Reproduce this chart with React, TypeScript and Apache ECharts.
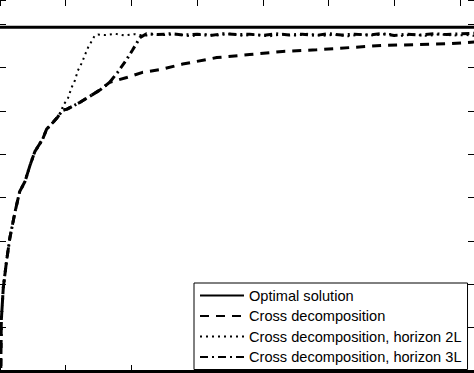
import React, { useEffect, useRef } from "react";
import * as echarts from "echarts";

const legendNames = [
  "Optimal solution",
  "Cross decomposition",
  "Cross decomposition, horizon 2L",
  "Cross decomposition, horizon 3L",
];

const optimalValue = 7.93;
const optimalX = [0, 72.2];

// shared early part of the three decomposition curves
const commonStart: [number, number][] = [
  [0.1, -0.3], [0.2, 1.17], [0.5, 1.92], [1.0, 2.54], [1.5, 3.07], [2.3, 3.68],
  [3.0, 4.14], [3.8, 4.37], [4.6, 4.76], [5.3, 5.06], [6.5, 5.35], [7.1, 5.58],
  [8.1, 5.74], [8.8, 5.86], [9.3, 5.97],
];
const commonMid: [number, number][] = [
  [9.6, 6.02], [10.2, 6.04], [12.2, 6.2], [15.2, 6.48],
];

const crossTail: [number, number][] = [
  [16.7, 6.66], [19.3, 6.77], [21.7, 6.89], [24.3, 6.95], [27.8, 7.08], [33.0, 7.23],
  [38.0, 7.3], [43.0, 7.37], [48.2, 7.41], [53.2, 7.46], [58.2, 7.51], [63.4, 7.53],
  [68.4, 7.55], [72.2, 7.59],
];

const horizon2Tail: [number, number][] = [
  [9.6, 6.13], [10.3, 6.27], [10.9, 6.54], [11.4, 6.7], [11.85, 6.93], [12.5, 7.12],
  [12.9, 7.28], [13.4, 7.46], [14.0, 7.62], [14.4, 7.73], [14.9, 7.76], [16, 7.75],
  [17.5, 7.78], [19, 7.74], [20.5, 7.77], [22, 7.73], [23.5, 7.78], [25, 7.75],
  [27, 7.77], [29, 7.72], [31, 7.77], [33, 7.74], [35, 7.78], [37, 7.73], [39, 7.76],
  [41, 7.72], [43, 7.77], [45, 7.74], [47, 7.78], [49, 7.73], [51, 7.76], [53, 7.72],
  [55, 7.77], [57, 7.74], [59, 7.78], [61, 7.73], [63, 7.76], [65, 7.73], [67, 7.77],
  [69, 7.74], [71, 7.75], [72.2, 7.73],
];

const horizon3Tail: [number, number][] = [
  [16.7, 6.66], [17.9, 6.89], [19.3, 7.19], [20.2, 7.41], [21.3, 7.69], [22.3, 7.78],
  [24, 7.76], [26, 7.78], [28, 7.75], [30, 7.77], [32, 7.74], [34, 7.78], [36, 7.76],
  [38, 7.77], [40, 7.74], [42, 7.78], [44, 7.75], [46, 7.77], [48, 7.74], [50, 7.78],
  [52, 7.75], [54, 7.77], [56, 7.75], [58, 7.78], [60, 7.74], [62, 7.77], [64, 7.75],
  [66, 7.78], [68, 7.76], [70, 7.78], [72.2, 7.79],
];

const xMin = 0;
const xMax = 72.15;
const xInterval = 10;
const yMin = 0;
const yMax = 8.558;
const yInterval = 1;

export default function App() {
  const ref = useRef<HTMLDivElement>(null);
  useEffect(() => {
    if (!ref.current) return;
    const chart = echarts.init(ref.current, undefined, { renderer: "svg" });
    const tickStyle = { show: true, inside: true, length: 6, lineStyle: { color: "#000", width: 1 } };
    const baseX = {
      type: "value" as const,
      min: xMin,
      max: xMax,
      interval: xInterval,
      axisLabel: { show: false },
      splitLine: { show: false },
      axisTick: tickStyle,
    };
    const baseY = {
      type: "value" as const,
      min: yMin,
      max: yMax,
      interval: yInterval,
      axisLabel: { show: false },
      splitLine: { show: false },
      axisTick: tickStyle,
    };
    chart.setOption({
      animation: false,
      backgroundColor: "#fff",
      grid: { left: 0, right: -1, top: -3, bottom: 2, containLabel: false },
      xAxis: [
        { ...baseX, position: "bottom", axisLine: { show: true, onZero: false, lineStyle: { color: "#000", width: 3 } } },
        { ...baseX, position: "top", axisLine: { show: false, onZero: false } },
      ],
      yAxis: [
        { ...baseY, position: "left", axisLine: { show: false, onZero: false } },
        { ...baseY, position: "right", axisLine: { show: false, onZero: false } },
      ],
      legend: {
        left: 194,
        top: 283,
        orient: "vertical",
        data: legendNames,
        itemWidth: 44,
        itemHeight: 14,
        itemGap: 5.5,
        padding: [5, 6, 5, 5],
        borderColor: "#000",
        borderWidth: 1,
        borderRadius: 0,
        backgroundColor: "#fff",
        itemStyle: { opacity: 0 },
        textStyle: { fontSize: 14.6, fontFamily: "Liberation Sans, Arial, sans-serif", color: "#000" },
        selectedMode: false,
      },
      series: [
        {
          name: legendNames[0],
          type: "line",
          symbol: "none",
          data: optimalX.map((x) => [x, optimalValue]),
          lineStyle: { color: "#000", width: 3, type: "solid" },
          itemStyle: { color: "#000" },
        },
        {
          name: legendNames[1],
          type: "line",
          symbol: "none",
          data: [...commonStart, ...commonMid, ...crossTail],
          lineStyle: { color: "#000", width: 3, type: [9, 7] },
          itemStyle: { color: "#000" },
        },
        {
          name: legendNames[2],
          type: "line",
          symbol: "none",
          data: [...commonStart, ...horizon2Tail],
          lineStyle: { color: "#000", width: 2, type: [2, 4] },
          itemStyle: { color: "#000" },
        },
        {
          name: legendNames[3],
          type: "line",
          symbol: "none",
          data: [...commonStart, ...commonMid, ...horizon3Tail],
          lineStyle: { color: "#000", width: 3, type: [8, 4, 2, 4] },
          itemStyle: { color: "#000" },
        },
      ],
    });
    return () => chart.dispose();
  }, []);
  return (
    <div
      ref={ref}
      style={{ position: "fixed", left: 0, top: 0, width: 474, height: 373 }}
    />
  );
}
